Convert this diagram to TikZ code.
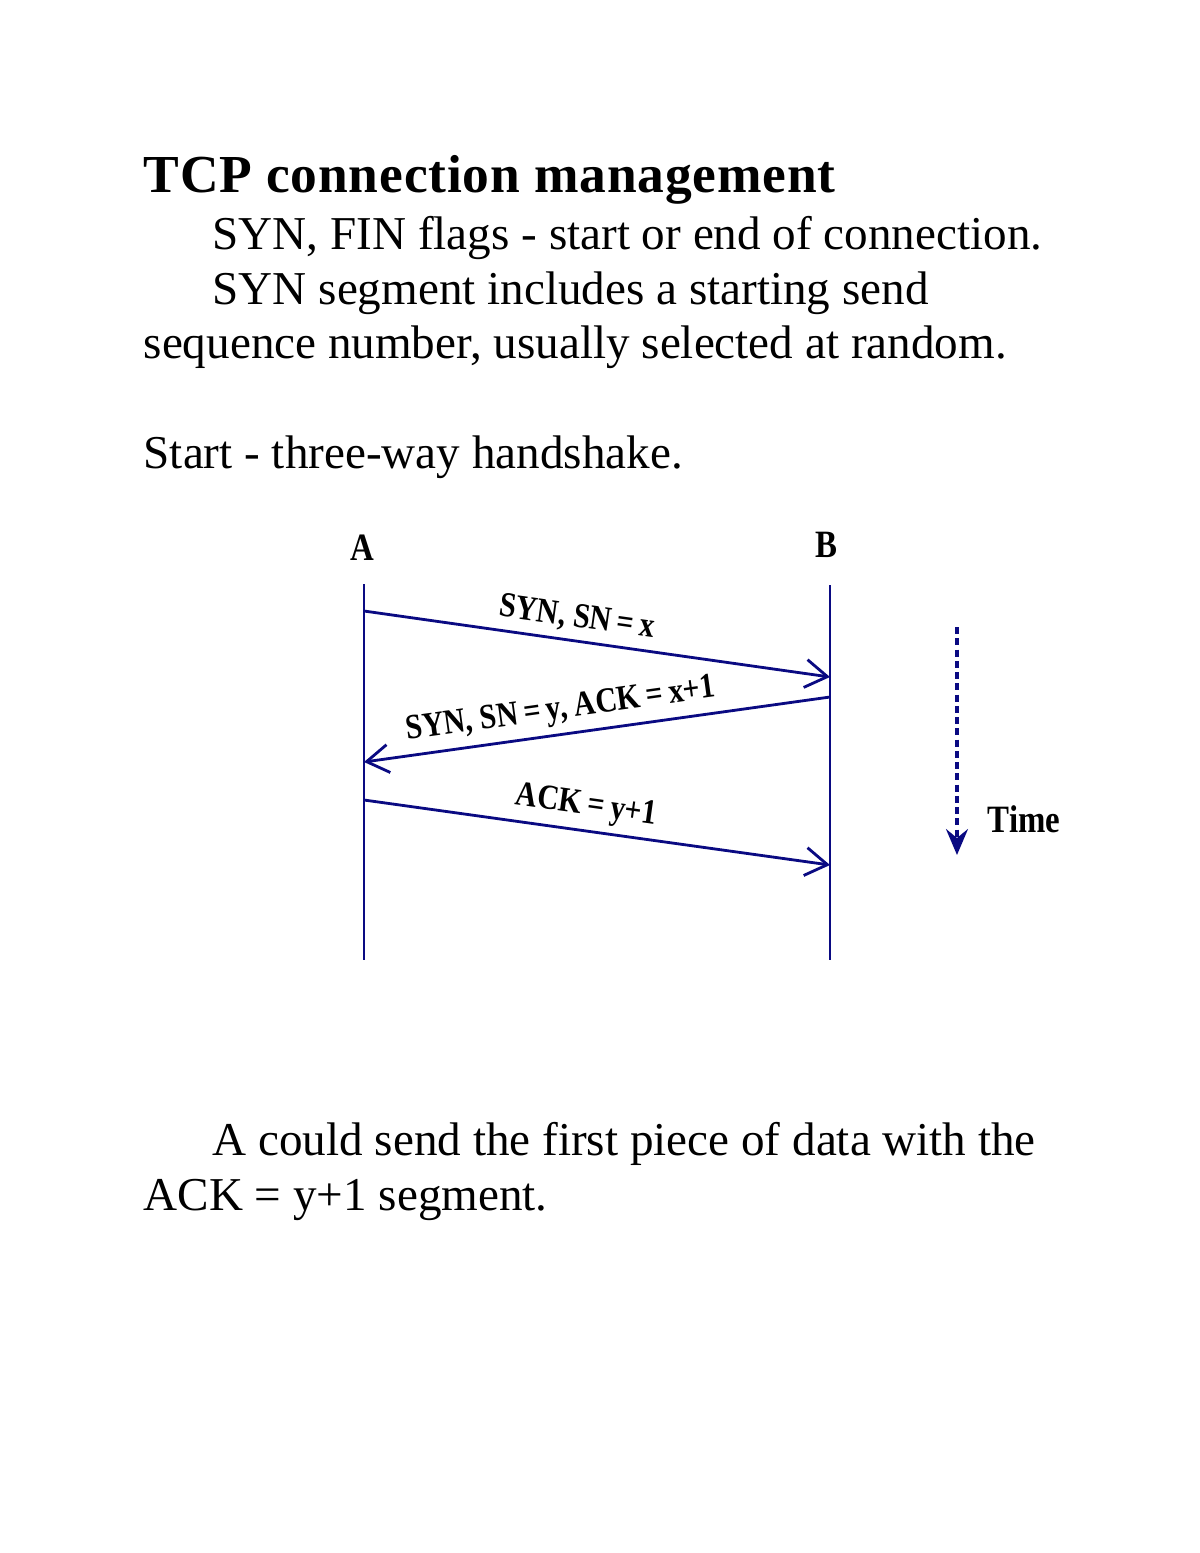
\documentclass[tikz,border=0pt]{standalone}
\usepackage{fontspec}
\setmainfont{Liberation Serif}
\newfontfamily\diagfont[FakeStretch=0.85]{Liberation Serif}
\usepackage{xcolor}
\usetikzlibrary{positioning,arrows.meta}

\definecolor{navy}{RGB}{10,10,130}

\tikzset{
  lifeline/.style={draw=navy,line width=0.8pt},
  msg/.style={draw=navy,line width=0.8pt,-{Straight Barb[length=2.2mm,width=2.8mm,line width=0.8pt]}},
  msglabel/.style={sloped,above,inner sep=2pt,font=\diagfont\fontsize{10}{12}\selectfont\bfseries},
  endlabel/.style={font=\diagfont\fontsize{11}{13}\selectfont\bfseries},
  bodytext/.style={anchor=base west,inner sep=0pt,font=\fontsize{13.4}{16}\selectfont},
  timeline/.style={draw=navy,line width=0.9pt,dash pattern=on 2pt off 1.2pt,-{Stealth[length=2.6mm,width=2.2mm,inset=0.9mm]}}
}

\begin{document}
\begin{tikzpicture}[x=0.01cm,y=0.01cm]
\useasboundingbox (0,0) rectangle (1200,-1553);
% text
\node [anchor=base west,inner sep=0pt,font=\fontsize{15.2}{18}\selectfont\bfseries\addfontfeature{LetterSpace=1.5}] (title) at (143,-192) {TCP connection management};
\node [bodytext] (line1) at (212,-249) {SYN, FIN flags - start or end of connection.};
\node [bodytext] (line2) at (212,-304) {SYN segment includes a starting send};
\node [bodytext] (line3) at (143,-358) {sequence number, usually selected at random.};
\node [bodytext] (start) at (143,-468) {Start - three-way handshake.};
\node [bodytext] (note1) at (212,-1155) {A could send the first piece of data with the};
\node [bodytext] (note2) at (143,-1210) {ACK = y+1 segment.};
% lifelines
\node [endlabel] (A) at (362,-548) {A};
\node [endlabel] (B) at (826,-545) {B};
\coordinate (Atop) at (364,-584);
\coordinate (Abot) at (364,-960);
\coordinate (Btop) at (830,-585);
\coordinate (Bbot) at (830,-960);
\draw [lifeline] (Atop) -- (Abot);
\draw [lifeline] (Btop) -- (Bbot);
% messages
\coordinate (a1) at (364,-611);
\coordinate (b1) at (830,-677);
\coordinate (b2) at (830,-697);
\coordinate (a2) at (364,-762);
\coordinate (a3) at (364,-800);
\coordinate (b3) at (830,-865);
\draw [msg] (a1) -- node [msglabel,pos=0.45] {SYN, SN\,=\,x} (b1);
\draw [msg] (b2) -- node [msglabel,pos=0.57] {SYN, SN\,=\,y, ACK\,=\,x+1} (a2);
\draw [msg] (a3) -- node [msglabel,pos=0.47] {ACK\,=\,y+1} (b3);
% time
\coordinate (t1) at (957,-627);
\coordinate (t2) at (957,-855);
\draw [timeline] (t1) -- (t2);
\node [anchor=base west,inner sep=0pt,endlabel] (time) at (987,-832) {Time};
\end{tikzpicture}
\end{document}
